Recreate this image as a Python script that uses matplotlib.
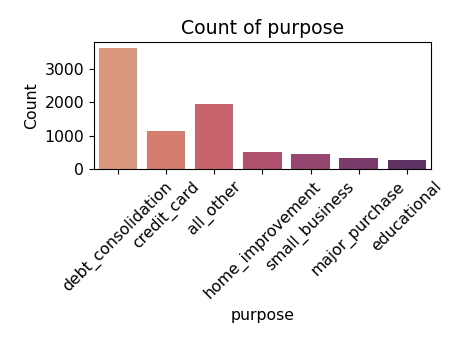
import numpy as np
import matplotlib
matplotlib.use('Agg')
import matplotlib.pyplot as plt
import seaborn as sns

purposes = ['debt_consolidation', 'credit_card', 'all_other', 'home_improvement',
            'small_business', 'major_purchase', 'educational']
counts = [3620, 1125, 1950, 505, 440, 335, 270]

plt.rcParams['font.size'] = 11.3
fig = plt.figure(figsize=(4.74, 3.38), dpi=100)
ax = fig.add_axes([0.198, 0.5, 0.711, 0.376])
sns.barplot(x=purposes, y=counts, hue=purposes, palette='flare', legend=False, ax=ax)
ax.set_title('Count of purpose', fontsize=13.6)
ax.set_xlabel('purpose')
ax.set_ylabel('Count')
plt.setp(ax.get_xticklabels(), rotation=45)
fig.savefig('out.png', dpi=100)
